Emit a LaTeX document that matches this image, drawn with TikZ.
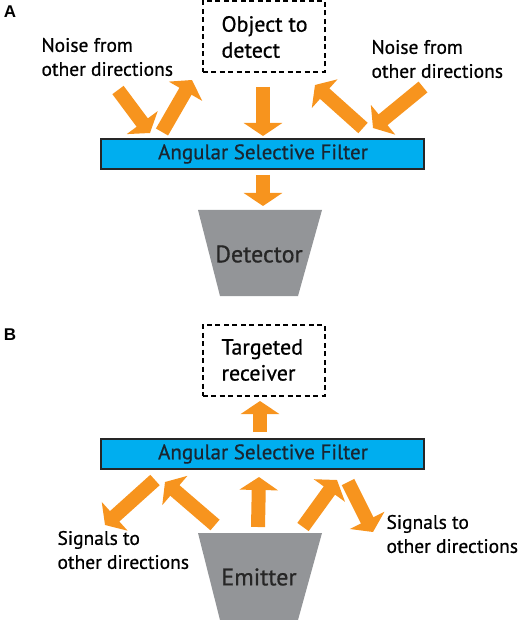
\documentclass[tikz,border=0pt]{standalone}
\usepackage{fontspec}
\setmainfont{PT Sans}[RawFeature={embolden=0.7}]
\newfontfamily\labelfont{Liberation Sans}
\usetikzlibrary{arrows.meta}
\definecolor{arrowor}{HTML}{F7941E}
\definecolor{filtercy}{HTML}{00AEEF}
\definecolor{boxgray}{HTML}{939598}
\definecolor{filtertxt}{HTML}{1A2530}
\tikzset{
  bigarrow/.style={draw=arrowor, line width=14pt, -{Triangle[length=13pt,width=38pt]}, color=arrowor},
  filterbar/.style={draw=black!85, line width=1.8pt, fill=filtercy, minimum width=323pt, minimum height=30pt, inner sep=0pt},
  filtertext/.style={font=\fontsize{21}{24}\selectfont, text=filtertxt},
  dashbox/.style={draw=black, line width=2pt, dash pattern=on 5pt off 3.5pt, minimum width=122pt, minimum height=71pt, inner sep=0pt},
  boxtext/.style={font=\fontsize{22}{26}\selectfont, align=left, anchor=west},
  sidetext/.style={font=\fontsize{19.5}{24}\selectfont, align=left, anchor=west},
  paneltag/.style={font=\labelfont\bfseries\fontsize{17}{20}\selectfont},
  trap/.style={fill=boxgray, draw=none},
  traptext/.style={font=\fontsize{24}{28}\selectfont, text=black!85}
}
\begin{document}
\begin{tikzpicture}[x=1pt,y=-1pt]
\useasboundingbox (0,0) rectangle (520,620);
% ---------- Panel A ----------
\node[paneltag] (tagA) at (10,12) {A};
\node[dashbox] (obj) at (263.5,36.5) {};
\node[boxtext] (objtxt) at (218,37) {Object to\\detect};
\node[sidetext] (noiseL) at (38,57) {Noise from\\other directions};
\node[sidetext] (noiseR) at (368,59) {Noise from\\other directions};
\node[filterbar] (filtA) at (262.5,154) {};
\node[filtertext] (filtAtxt) at (263,154) {Angular Selective Filter};
\fill[trap] (198,210) -- (322,210) -- (298,296) -- (220,296) -- cycle;
\node[traptext] (det) at (259,254) {Detector};
\coordinate (a1s) at (118,90);  \coordinate (a1e) at (150,133);
\coordinate (a2s) at (162,132); \coordinate (a2e) at (192,80);
\coordinate (a3s) at (263,87);  \coordinate (a3e) at (263,136);
\coordinate (a4s) at (363,128); \coordinate (a4e) at (315,85);
\coordinate (a5s) at (423,87);  \coordinate (a5e) at (373,128);
\coordinate (a6s) at (263,175); \coordinate (a6e) at (263,206);
\draw[bigarrow] (a1s) -- (a1e);
\draw[bigarrow] (a2s) -- (a2e);
\draw[bigarrow] (a3s) -- (a3e);
\draw[bigarrow] (a4s) -- (a4e);
\draw[bigarrow] (a5s) -- (a5e);
\draw[bigarrow] (a6s) -- (a6e);
% ---------- Panel B ----------
\node[paneltag] (tagB) at (10,335) {B};
\node[dashbox] (recv) at (263.5,360) {};
\node[boxtext] (recvtxt) at (218,360) {Targeted\\receiver};
\node[filterbar] (filtB) at (262.5,454) {};
\node[filtertext] (filtBtxt) at (263,454) {Angular Selective Filter};
\fill[trap] (198,533) -- (322,533) -- (298,620) -- (220,620) -- cycle;
\node[traptext] (emit) at (259,577) {Emitter};
\node[sidetext] (sigL) at (54,550) {Signals to\\other directions};
\node[sidetext] (sigR) at (383,534) {Signals to\\other directions};
\coordinate (b1s) at (260,432); \coordinate (b1e) at (260,401);
\coordinate (b2s) at (155,480); \coordinate (b2e) at (105,525);
\coordinate (b3s) at (215,525); \coordinate (b3e) at (165,482);
\coordinate (b4s) at (258,527); \coordinate (b4e) at (259,477);
\coordinate (b5s) at (303,527); \coordinate (b5e) at (337,480);
\coordinate (b6s) at (348,482); \coordinate (b6e) at (373,532);
\draw[bigarrow] (b1s) -- (b1e);
\draw[bigarrow] (b2s) -- (b2e);
\draw[bigarrow] (b3s) -- (b3e);
\draw[bigarrow] (b4s) -- (b4e);
\draw[bigarrow] (b5s) -- (b5e);
\draw[bigarrow] (b6s) -- (b6e);
\end{tikzpicture}
\end{document}
